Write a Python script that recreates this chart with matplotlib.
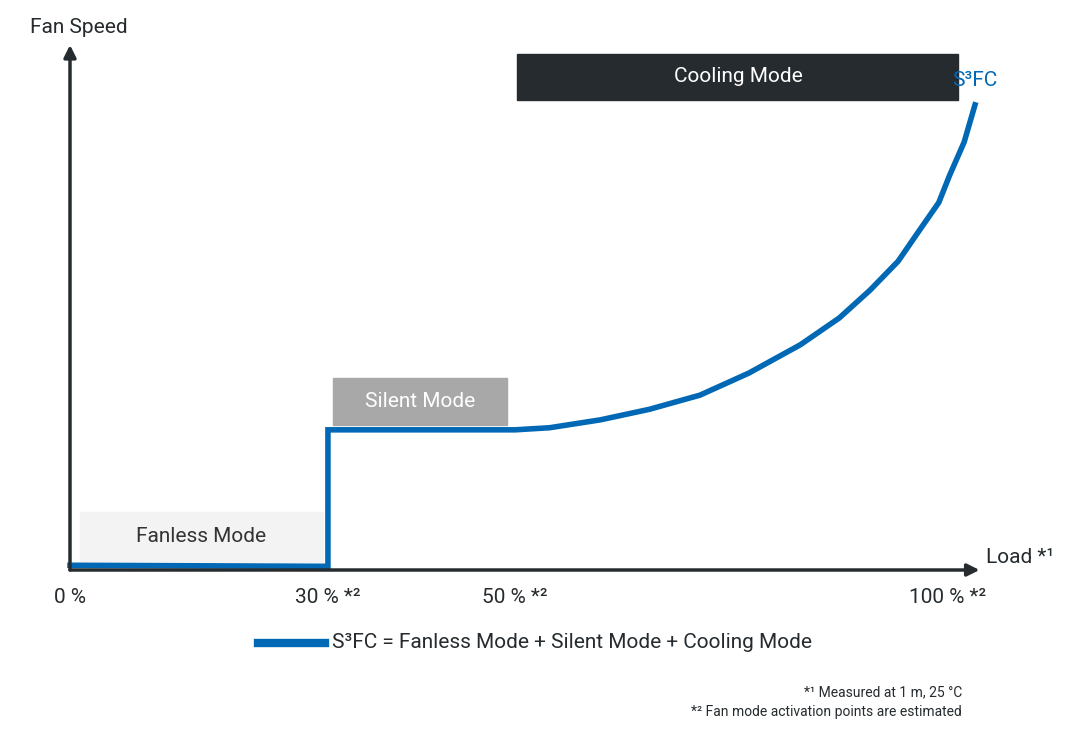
import matplotlib.pyplot as plt
from matplotlib.patches import Rectangle

plt.rcParams['font.family'] = ['Roboto', 'DejaVu Sans']

# curve data (load %, fan speed %)
fanless_x = [0, 28.5]
fanless_y = [0.9, 0.7]
silent_x = [28.5, 28.5, 49.2]
silent_y = [0.7, 26.7, 26.7]
cool_x = [49.2, 53, 58.6, 64, 69.6, 75, 80.7, 85, 88.4, 91.5, 93.9, 96, 97.2, 98.8, 100]
cool_y = [26.7, 27.1, 28.6, 30.6, 33.3, 37.5, 42.9, 48.0, 53.3, 58.8, 64.8, 70.0, 75.2, 81.5, 88.6]
tick_pos = [0, 28.5, 49.2, 97]
tick_labels = ['0 %', '30 % *²', '50 % *²', '100 % *²']
blue = '#0068b4'

fig = plt.figure(figsize=(10.68, 7.32), dpi=100)
ax = fig.add_axes([70/1068, 162/732, 905/1068, 525/732])
ax.set_xlim(0, 100)
ax.set_ylim(0, 100)
ax.axis('off')

# mode boxes
ax.add_patch(Rectangle((1.1, 1.5), 26.9, 9.5, color='#f3f3f3', zorder=0))
ax.text(14.5, 6.3, 'Fanless Mode', ha='center', va='center', fontsize=15, color='#333333')
ax.add_patch(Rectangle((29.1, 27.6), 19.2, 9.0, color='#a8a8a8', zorder=1))
ax.text(38.7, 32.1, 'Silent Mode', ha='center', va='center', fontsize=15, color='white')
ax.add_patch(Rectangle((49.4, 89.5), 48.7, 8.8, color='#252b2e', zorder=1))
ax.text(73.8, 94.0, 'Cooling Mode', ha='center', va='center', fontsize=15, color='white')

ax.plot(fanless_x + silent_x[1:] + cool_x[1:], fanless_y + silent_y[1:] + cool_y[1:],
        color=blue, lw=4, solid_joinstyle='miter', zorder=3, clip_on=False)
ax.text(100, 91.5, 'S³FC', ha='center', va='bottom', fontsize=15, color=blue)

# axes arrows
ax.annotate('', xy=(100.5, 0), xytext=(0, 0), annotation_clip=False,
            arrowprops=dict(arrowstyle='-|>', color='#252b2e', lw=2.5, mutation_scale=18, shrinkA=0, shrinkB=0))
ax.annotate('', xy=(0, 100), xytext=(0, 0), annotation_clip=False,
            arrowprops=dict(arrowstyle='-|>', color='#252b2e', lw=2.5, mutation_scale=18, shrinkA=0, shrinkB=0))
ax.text(-4.4, 101.5, 'Fan Speed', fontsize=15, color='#252b2e', va='bottom')
ax.text(101.2, 0.5, 'Load *¹', fontsize=15, color='#252b2e', va='bottom')
for p, lab in zip(tick_pos, tick_labels):
    ax.text(p, -3.5, lab, ha='center', va='top', fontsize=15, color='#252b2e')

# legend and notes
fig.lines.append(plt.Line2D([258/1068, 325/1068], [1-643/732, 1-643/732], color=blue, lw=6, transform=fig.transFigure))
fig.text(332/1068, 1-643/732, 'S³FC = Fanless Mode + Silent Mode + Cooling Mode', fontsize=15,
         va='center', color='#252b2e')
fig.text(962/1068, 1-692/732, '*¹ Measured at 1 m, 25 °C', fontsize=10, ha='right', va='center', color='#252b2e')
fig.text(962/1068, 1-712/732, '*² Fan mode activation points are estimated', fontsize=10, ha='right', va='center', color='#252b2e')

fig.savefig('out.png', dpi=100, facecolor='white')
